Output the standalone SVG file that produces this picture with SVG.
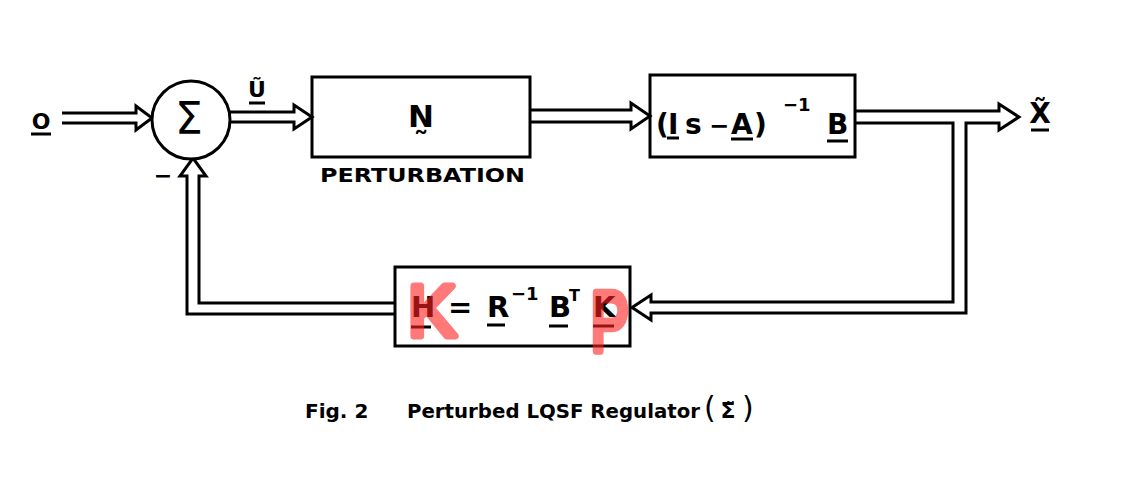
<svg xmlns="http://www.w3.org/2000/svg" width="1122" height="482" viewBox="0 0 1122 482">
<style>
.box{fill:none;stroke:#000;stroke-width:3}
.wire{fill:none;stroke:#000;stroke-width:3;stroke-linejoin:miter}
.lbl{font-family:"DejaVu Sans","Liberation Sans",sans-serif;fill:#000}
.ul{stroke:#000;stroke-width:3}
.red{font-family:"Liberation Sans",sans-serif;fill:#ff2020;stroke:#ff2020;stroke-width:7;stroke-linejoin:round}
.cap{font-family:"DejaVu Sans","Liberation Sans",sans-serif;font-weight:bold;fill:#000}
</style>
<rect width="1122" height="482" fill="#fff"/>

<g id="connectors">
  <path class="wire" d="M62,113 H136 V106 L152,118 L136,130 V123 H62"/>
  <path class="wire" d="M230,112 H294 V105 L312,117 L294,129 V122 H230"/>
  <path class="wire" d="M530,110 H631 V103 L650,116 L631,129 V122 H530"/>
  <path class="wire" d="M855,111 H999 V104 L1019,117 L999,130 V123 H966 V313 H651 V320 L632,307.5 L651,295 V302 H953 V123 H855"/>
  <path class="wire" d="M395,303 H199 V176 H206 L193,158 L180,176 H187 V314 H395"/>
</g>

<g id="input-label">
  <text class="lbl" x="41" y="129" font-size="22" font-weight="bold" text-anchor="middle">O</text>
  <line class="ul" x1="31" y1="134" x2="51" y2="134"/>
</g>

<g id="sum">
  <circle cx="191" cy="120" r="39" fill="#fff" stroke="#000" stroke-width="3"/>
  <text class="lbl" x="189" y="134" font-size="44" text-anchor="middle">Σ</text>
  <text class="lbl" x="163" y="183" font-size="22" font-weight="bold" text-anchor="middle">−</text>
</g>

<g id="u-label">
  <text class="lbl" x="257" y="97" font-size="22" font-weight="bold" text-anchor="middle">Ũ</text>
  <line class="ul" x1="249" y1="103" x2="265" y2="103"/>
</g>

<g id="perturbation">
  <rect class="box" x="312" y="77" width="218" height="80"/>
  <text class="lbl" x="421" y="127" font-size="31" font-weight="bold" text-anchor="middle">N̰</text>
  <text class="lbl" x="320" y="182" font-size="20" font-weight="bold" textLength="205" lengthAdjust="spacingAndGlyphs">PERTURBATION</text>
</g>

<g id="plant">
  <rect class="box" x="650" y="75" width="205" height="82"/>
  <text class="lbl" y="134" font-size="28" font-weight="bold"><tspan x="656">(</tspan><tspan x="668">I</tspan><tspan x="685">s</tspan><tspan x="709" font-size="24">−</tspan><tspan x="731" font-size="28">A</tspan><tspan x="754">)</tspan><tspan x="783" y="111" font-size="18">−1</tspan><tspan x="827" y="134">B</tspan></text>
  <line class="ul" x1="667" y1="138" x2="679" y2="138"/>
  <line class="ul" x1="731" y1="139" x2="753" y2="139"/>
  <line class="ul" x1="827" y1="141" x2="848" y2="141"/>
</g>

<g id="x-label">
  <text class="lbl" x="1040" y="123" font-size="28" font-weight="bold" text-anchor="middle">X̃</text>
  <line class="ul" x1="1031" y1="130" x2="1049" y2="130"/>
</g>

<g id="gain">
  <rect class="box" x="395" y="267" width="235" height="79"/>
  <text class="lbl" y="317" font-size="29" font-weight="bold"><tspan x="411">H</tspan><tspan x="448">=</tspan><tspan x="487">R</tspan><tspan x="511" y="300" font-size="18">−1</tspan><tspan x="549" y="317">B</tspan><tspan x="569" y="301" font-size="16">T</tspan><tspan x="593" y="317">K</tspan></text>
  <line class="ul" x1="411" y1="327" x2="431" y2="327"/>
  <line class="ul" x1="487" y1="325" x2="505" y2="325"/>
  <line class="ul" x1="549" y1="326" x2="568" y2="326"/>
  <line class="ul" x1="593" y1="326" x2="614" y2="326"/>
</g>

<g id="annotation" opacity="0.6">
  <text class="red" x="408" y="336" font-size="72">K</text>
  <text class="red" transform="translate(591,350) scale(0.8,1.2)" font-size="70">P</text>
</g>

<g id="caption">
  <text class="cap" x="305" y="418" font-size="20">Fig. 2</text>
  <text class="cap" x="407" y="418" font-size="20" textLength="293" lengthAdjust="spacingAndGlyphs">Perturbed LQSF Regulator</text>
  <text class="lbl" x="704" y="418" font-size="30">(</text>
  <text class="cap" x="728" y="418" font-size="22" text-anchor="middle">Σ̃</text>
  <text class="lbl" x="742" y="418" font-size="30">)</text>
</g>
</svg>
